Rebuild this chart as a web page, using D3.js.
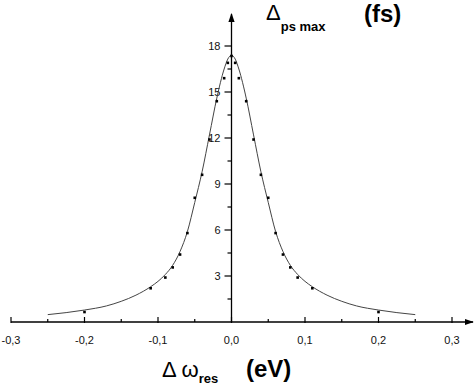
<!DOCTYPE html>
<html>
<head>
<meta charset="utf-8">
<script src="https://cdn.jsdelivr.net/npm/d3@7"></script>
<style>
  body { margin: 0; background: #fff; }
  svg { display: block; font-family: Arial, "Liberation Sans", sans-serif; }
</style>
</head>
<body>
<div id="chart"></div>
<script>
// 測量點 (eV, fs)
const pointX = [-0.2, -0.11, -0.09, -0.08, -0.07, -0.06, -0.05, -0.04, -0.03, -0.02, -0.01, -0.005, 0,
  0.005, 0.01, 0.02, 0.03, 0.04, 0.05, 0.06, 0.07, 0.08, 0.09, 0.11, 0.2];
const pointY = [0.65, 2.2, 2.9, 3.56, 4.4, 5.8, 8.1, 9.6, 11.9, 14.4, 15.9, 16.9, 17.35,
  16.9, 15.9, 14.4, 11.9, 9.6, 8.1, 5.8, 4.4, 3.56, 2.9, 2.2, 0.65];

// 擬合曲線 (讀圖取點)
const fitX = [-0.25, -0.2, -0.17, -0.15, -0.13, -0.11, -0.1, -0.09, -0.08, -0.07, -0.06, -0.05, -0.04, -0.03, -0.02, -0.01, -0.005, 0,
  0.005, 0.01, 0.02, 0.03, 0.04, 0.05, 0.06, 0.07, 0.08, 0.09, 0.1, 0.11, 0.13, 0.15, 0.17, 0.2, 0.25];
const fitY = [0.48, 0.78, 1.05, 1.35, 1.75, 2.3, 2.65, 3.1, 3.7, 4.6, 5.9, 7.8, 9.8, 12.2, 14.6, 16.5, 17.15, 17.4,
  17.15, 16.5, 14.6, 12.2, 9.8, 7.8, 5.9, 4.6, 3.7, 3.1, 2.65, 2.3, 1.75, 1.35, 1.05, 0.78, 0.48];

const xTicks = [-0.3, -0.2, -0.1, 0, 0.1, 0.2, 0.3];
const xMinor = [-0.25, -0.15, -0.05, 0.05, 0.15, 0.25];
const yTicks = [3, 6, 9, 12, 15, 18];
const yMinor = [1.5, 4.5, 7.5, 10.5, 13.5, 16.5];

const W = 474, H = 387;
const svg = d3.select('#chart').append('svg')
  .attr('width', W).attr('height', H);

const x = d3.scaleLinear().domain([-0.3, 0.3]).range([11, 452]);
const y = d3.scaleLinear().domain([0, 18]).range([322, 46]);
const fmt = d => d3.format('.1f')(d).replace('.', ',').replace('−', '-');

// 箭頭
const defs = svg.append('defs');
defs.append('marker')
  .attr('id', 'arrow')
  .attr('viewBox', '0 0 10 10')
  .attr('refX', 9).attr('refY', 5)
  .attr('markerWidth', 9).attr('markerHeight', 9)
  .attr('markerUnits', 'userSpaceOnUse')
  .attr('orient', 'auto')
  .append('path').attr('d', 'M0,1.5 L10,5 L0,8.5 Z').attr('fill', '#000');

// X 軸
svg.append('line')
  .attr('x1', x(-0.3)).attr('x2', 473)
  .attr('y1', y(0)).attr('y2', y(0))
  .attr('stroke', '#000').attr('stroke-width', 1.3)
  .attr('marker-end', 'url(#arrow)');

svg.selectAll('.xt').data(xTicks).enter().append('line')
  .attr('x1', d => x(d)).attr('x2', d => x(d))
  .attr('y1', y(0) - 5).attr('y2', y(0) + 1)
  .attr('stroke', '#000').attr('stroke-width', 1.2);
svg.selectAll('.xm').data(xMinor).enter().append('line')
  .attr('x1', d => x(d)).attr('x2', d => x(d))
  .attr('y1', y(0) - 3).attr('y2', y(0))
  .attr('stroke', '#000').attr('stroke-width', 1.2);
svg.selectAll('.xl').data(xTicks).enter().append('text')
  .attr('x', d => x(d)).attr('y', 344)
  .attr('text-anchor', 'middle')
  .style('font-size', '11px').attr('fill', '#111')
  .text(fmt);

// Y 軸
svg.append('line')
  .attr('x1', x(0)).attr('x2', x(0))
  .attr('y1', y(0)).attr('y2', 14)
  .attr('stroke', '#000').attr('stroke-width', 1.3)
  .attr('marker-end', 'url(#arrow)');

svg.selectAll('.yt').data(yTicks).enter().append('line')
  .attr('x1', x(0) - 7).attr('x2', x(0))
  .attr('y1', d => y(d)).attr('y2', d => y(d))
  .attr('stroke', '#000').attr('stroke-width', 1.2);
svg.selectAll('.ym').data(yMinor).enter().append('line')
  .attr('x1', x(0) - 4).attr('x2', x(0))
  .attr('y1', d => y(d)).attr('y2', d => y(d))
  .attr('stroke', '#000').attr('stroke-width', 1.2);
svg.selectAll('.yl').data(yTicks).enter().append('text')
  .attr('x', x(0) - 11).attr('y', d => y(d) + 4)
  .attr('text-anchor', 'end')
  .style('font-size', '11px').attr('fill', '#111')
  .text(d => d);

// 擬合曲線
const fit = fitX.map((v, i) => [v, fitY[i]]);
svg.append('path')
  .datum(fit)
  .attr('fill', 'none')
  .attr('stroke', '#444')
  .attr('stroke-width', 1)
  .attr('d', d3.line().x(d => x(d[0])).y(d => y(d[1])).curve(d3.curveMonotoneX));

// 資料點
const pts = pointX.map((v, i) => [v, pointY[i]]);
svg.selectAll('.pt').data(pts).enter().append('rect')
  .attr('x', d => x(d[0]) - 1.3).attr('y', d => y(d[1]) - 1.3)
  .attr('width', 2.6).attr('height', 2.6)
  .attr('fill', '#000');

// 軸標題
const yt = svg.append('text').attr('x', 266).attr('y', 20).attr('fill', '#000');
yt.append('tspan').style('font-size', '22px').text('Δ');
yt.append('tspan').attr('dy', 11).style('font-size', '13px').style('font-weight', 'bold').text('ps max');
svg.append('text').attr('x', 364).attr('y', 22)
  .style('font-size', '24px').style('font-weight', 'bold').text('(fs)');

const xt = svg.append('text').attr('x', 162).attr('y', 377).attr('fill', '#000');
xt.append('tspan').style('font-size', '22px').text('Δ ω');
xt.append('tspan').attr('dy', 6).style('font-size', '13px').style('font-weight', 'bold').text('res');
svg.append('text').attr('x', 246).attr('y', 377)
  .style('font-size', '24px').style('font-weight', 'bold').text('(eV)');
</script>
</body>
</html>
